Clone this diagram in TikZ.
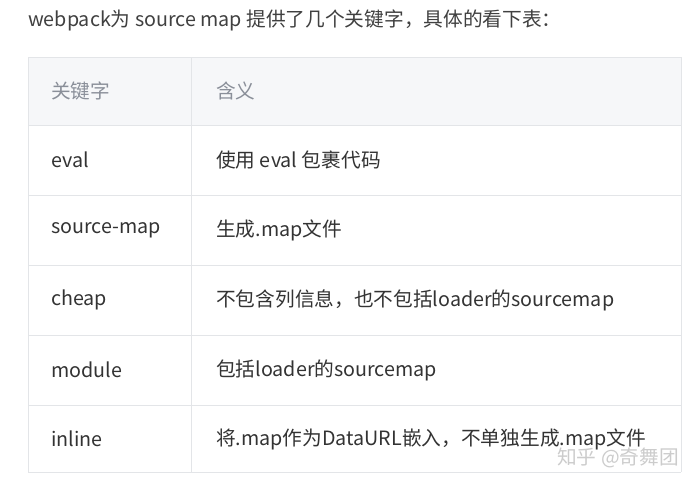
\documentclass[tikz,border=0pt]{standalone}
\usepackage{fontspec}
\setmainfont{Noto Sans CJK SC}
\definecolor{tline}{HTML}{E3E5E8}
\definecolor{thead}{HTML}{F6F7F9}
\definecolor{ttext}{HTML}{333333}
\definecolor{htext}{HTML}{8A8F99}
\begin{document}
\begin{tikzpicture}[x=1pt,y=-1pt,
  cell/.style={anchor=west,text=ttext,font=\fontsize{19.7}{22}\selectfont,inner sep=0pt},
  hcell/.style={cell,text=htext}]
\useasboundingbox[fill=white] (0,0) rectangle (697,485);
\node[cell,text=black!75] (title) at (28,20) {webpack为 source map 提供了几个关键字，具体的看下表：};
\fill[thead] (28,57) rectangle (681,125);
\foreach \y in {57,125,195,265,335,405,472} \draw[tline,line width=1pt] (28,\y) -- (681,\y);
\draw[tline,line width=1pt] (28,57) -- (28,472) (191,57) -- (191,472) (681,57) -- (681,472);
\node[hcell] (h1) at (51,91) {关键字};
\node[hcell] (h2) at (216,91) {含义};
\node[cell] (a1) at (51,160) {eval};
\node[cell] (b1) at (216,160) {使用 eval 包裹代码};
\node[cell] (a2) at (51,230) {source-map};
\node[cell] (b2) at (216,230) {生成.map文件};
\node[cell] (a3) at (51,300) {cheap};
\node[cell] (b3) at (216,300) {不包含列信息，也不包括loader的sourcemap};
\node[cell] (a4) at (51,370) {module};
\node[cell] (b4) at (216,370) {包括loader的sourcemap};
\node[cell] (a5) at (51,439) {inline};
\node[cell] (b5) at (216,439) {将.map作为DataURL嵌入，不单独生成.map文件};
\node[cell,text=white!60!gray,anchor=east] (wm) at (679,458) {知乎 @奇舞团};
\end{tikzpicture}
\end{document}
